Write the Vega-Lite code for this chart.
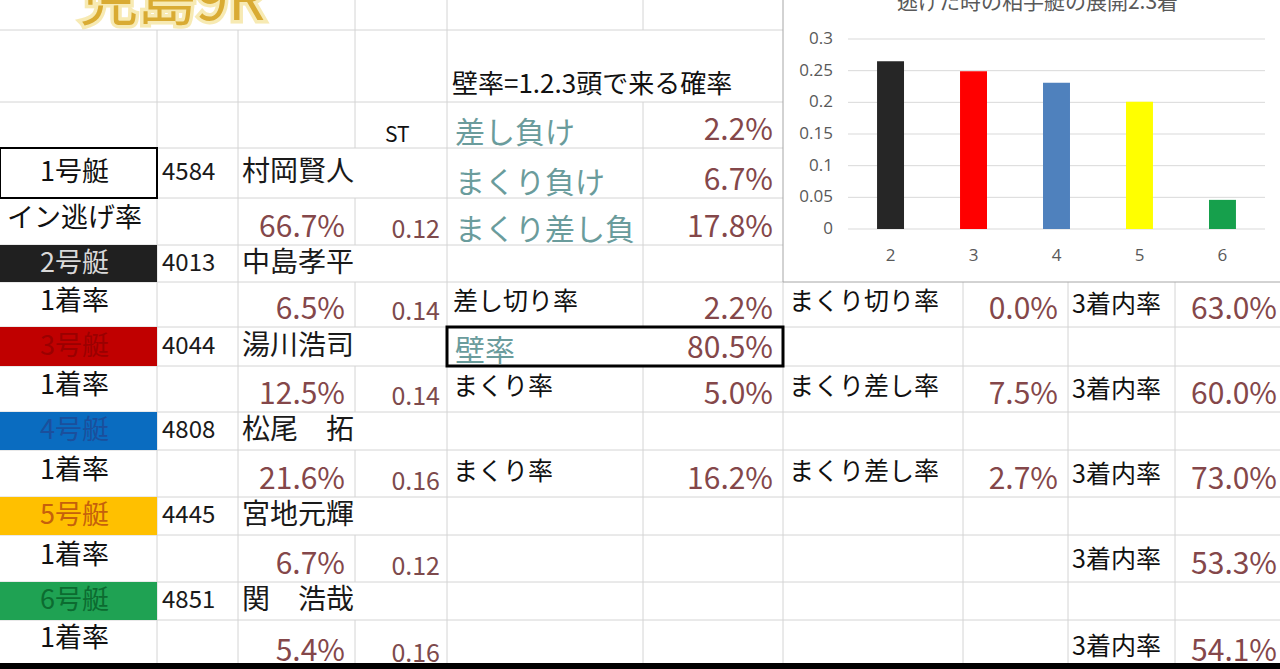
{
  "$schema": "https://vega.github.io/schema/vega-lite/v6.json",
  "width": 1280,
  "height": 669,
  "autosize": "none",
  "padding": 0,
  "background": "#ffffff",
  "config": {
    "view": {"stroke": null},
    "text": {"font": "Noto Sans CJK JP"}
  },
  "datasets": {
    "gridH": [
      {"e": 1, "c0": 0, "c1": 6, "kind": "grid"},
      {"e": 2, "c0": 0, "c1": 6, "kind": "grid"},
      {"e": 3, "c0": 0, "c1": 6, "kind": "grid"},
      {"e": 4, "c0": 0, "c1": 6, "kind": "grid"},
      {"e": 5, "c0": 0, "c1": 6, "kind": "grid"},
      {"e": 6, "c0": 0, "c1": 6, "kind": "grid"},
      {"e": 7, "c0": 0, "c1": 10, "kind": "grid"},
      {"e": 8, "c0": 0, "c1": 10, "kind": "grid"},
      {"e": 9, "c0": 0, "c1": 10, "kind": "grid"},
      {"e": 10, "c0": 0, "c1": 10, "kind": "grid"},
      {"e": 11, "c0": 0, "c1": 10, "kind": "grid"},
      {"e": 12, "c0": 0, "c1": 10, "kind": "grid"},
      {"e": 13, "c0": 0, "c1": 10, "kind": "grid"},
      {"e": 14, "c0": 0, "c1": 10, "kind": "grid"},
      {"e": 15, "c0": 0, "c1": 10, "kind": "base"},
      {"e": 6, "c0": 6, "c1": 10, "kind": "frame"}
    ],
    "gridV": [
      {"e": 1, "r0": 1, "r1": 15, "kind": "grid"},
      {"e": 2, "r0": 1, "r1": 15, "kind": "grid"},
      {"e": 3, "r0": 0, "r1": 3, "kind": "grid"},
      {"e": 3, "r0": 4, "r1": 5, "kind": "grid"},
      {"e": 3, "r0": 6, "r1": 7, "kind": "grid"},
      {"e": 3, "r0": 8, "r1": 9, "kind": "grid"},
      {"e": 3, "r0": 10, "r1": 11, "kind": "grid"},
      {"e": 3, "r0": 12, "r1": 13, "kind": "grid"},
      {"e": 3, "r0": 14, "r1": 15, "kind": "grid"},
      {"e": 4, "r0": 0, "r1": 15, "kind": "grid"},
      {"e": 5, "r0": 0, "r1": 1, "kind": "grid"},
      {"e": 5, "r0": 2, "r1": 7, "kind": "grid"},
      {"e": 5, "r0": 8, "r1": 15, "kind": "grid"},
      {"e": 6, "r0": 6, "r1": 15, "kind": "grid"},
      {"e": 7, "r0": 6, "r1": 15, "kind": "grid"},
      {"e": 8, "r0": 6, "r1": 15, "kind": "grid"},
      {"e": 9, "r0": 6, "r1": 15, "kind": "grid"},
      {"e": 6, "r0": 0, "r1": 6, "kind": "frame"}
    ],
    "blocks": [
      {"kind": "boat", "boat": "2", "r0": 5, "r1": 6, "c0": 0, "c1": 1},
      {"kind": "boat", "boat": "3", "r0": 7, "r1": 8, "c0": 0, "c1": 1},
      {"kind": "boat", "boat": "4", "r0": 9, "r1": 10, "c0": 0, "c1": 1},
      {"kind": "boat", "boat": "5", "r0": 11, "r1": 12, "c0": 0, "c1": 1},
      {"kind": "boat", "boat": "6", "r0": 13, "r1": 14, "c0": 0, "c1": 1},
      {"kind": "box", "r0": 3, "r1": 4, "c0": 0, "c1": 1},
      {"kind": "wallBox", "r0": 7, "r1": 8, "c0": 4, "c1": 6}
    ],
    "cells": [
      {"r": 0, "c": 0, "kind": "sheetTitle", "t": "児島9R"},
      {"r": 1, "c": 4, "kind": "heading", "t": "壁率=1.2.3頭で来る確率"},
      {"r": 2, "c": 3, "kind": "stHead", "t": "ST"},
      {"r": 2, "c": 4, "kind": "pattern", "t": "差し負け"},
      {"r": 2, "c": 5, "kind": "pct", "t": "2.2%"},
      {"r": 3, "c": 0, "kind": "boat", "boat": "1", "t": "1号艇"},
      {"r": 3, "c": 1, "kind": "id", "t": "4584"},
      {"r": 3, "c": 2, "kind": "name", "t": "村岡賢人"},
      {"r": 3, "c": 4, "kind": "pattern", "t": "まくり負け"},
      {"r": 3, "c": 5, "kind": "pct", "t": "6.7%"},
      {"r": 4, "c": 0, "kind": "rateLabel", "t": "イン逃げ率"},
      {"r": 4, "c": 2, "kind": "pct", "t": "66.7%"},
      {"r": 4, "c": 3, "kind": "st", "t": "0.12"},
      {"r": 4, "c": 4, "kind": "pattern", "t": "まくり差し負け"},
      {"r": 4, "c": 5, "kind": "pct", "t": "17.8%"},
      {"r": 5, "c": 0, "kind": "boat", "boat": "2", "t": "2号艇"},
      {"r": 5, "c": 1, "kind": "id", "t": "4013"},
      {"r": 5, "c": 2, "kind": "name", "t": "中島孝平"},
      {"r": 6, "c": 0, "kind": "rateLabel", "t": "1着率"},
      {"r": 6, "c": 2, "kind": "pct", "t": "6.5%"},
      {"r": 6, "c": 3, "kind": "st", "t": "0.14"},
      {"r": 6, "c": 4, "kind": "label", "t": "差し切り率"},
      {"r": 6, "c": 5, "kind": "pct", "t": "2.2%"},
      {"r": 6, "c": 6, "kind": "label", "t": "まくり切り率"},
      {"r": 6, "c": 7, "kind": "pct", "t": "0.0%"},
      {"r": 6, "c": 8, "kind": "top3Label", "t": "3着内率"},
      {"r": 6, "c": 9, "kind": "pct", "t": "63.0%"},
      {"r": 7, "c": 0, "kind": "boat", "boat": "3", "t": "3号艇"},
      {"r": 7, "c": 1, "kind": "id", "t": "4044"},
      {"r": 7, "c": 2, "kind": "name", "t": "湯川浩司"},
      {"r": 7, "c": 4, "kind": "pattern", "t": "壁率"},
      {"r": 7, "c": 5, "kind": "pct", "t": "80.5%"},
      {"r": 8, "c": 0, "kind": "rateLabel", "t": "1着率"},
      {"r": 8, "c": 2, "kind": "pct", "t": "12.5%"},
      {"r": 8, "c": 3, "kind": "st", "t": "0.14"},
      {"r": 8, "c": 4, "kind": "label", "t": "まくり率"},
      {"r": 8, "c": 5, "kind": "pct", "t": "5.0%"},
      {"r": 8, "c": 6, "kind": "label", "t": "まくり差し率"},
      {"r": 8, "c": 7, "kind": "pct", "t": "7.5%"},
      {"r": 8, "c": 8, "kind": "top3Label", "t": "3着内率"},
      {"r": 8, "c": 9, "kind": "pct", "t": "60.0%"},
      {"r": 9, "c": 0, "kind": "boat", "boat": "4", "t": "4号艇"},
      {"r": 9, "c": 1, "kind": "id", "t": "4808"},
      {"r": 9, "c": 2, "kind": "name", "t": "松尾　拓"},
      {"r": 10, "c": 0, "kind": "rateLabel", "t": "1着率"},
      {"r": 10, "c": 2, "kind": "pct", "t": "21.6%"},
      {"r": 10, "c": 3, "kind": "st", "t": "0.16"},
      {"r": 10, "c": 4, "kind": "label", "t": "まくり率"},
      {"r": 10, "c": 5, "kind": "pct", "t": "16.2%"},
      {"r": 10, "c": 6, "kind": "label", "t": "まくり差し率"},
      {"r": 10, "c": 7, "kind": "pct", "t": "2.7%"},
      {"r": 10, "c": 8, "kind": "top3Label", "t": "3着内率"},
      {"r": 10, "c": 9, "kind": "pct", "t": "73.0%"},
      {"r": 11, "c": 0, "kind": "boat", "boat": "5", "t": "5号艇"},
      {"r": 11, "c": 1, "kind": "id", "t": "4445"},
      {"r": 11, "c": 2, "kind": "name", "t": "宮地元輝"},
      {"r": 12, "c": 0, "kind": "rateLabel", "t": "1着率"},
      {"r": 12, "c": 2, "kind": "pct", "t": "6.7%"},
      {"r": 12, "c": 3, "kind": "st", "t": "0.12"},
      {"r": 12, "c": 8, "kind": "top3Label", "t": "3着内率"},
      {"r": 12, "c": 9, "kind": "pct", "t": "53.3%"},
      {"r": 13, "c": 0, "kind": "boat", "boat": "6", "t": "6号艇"},
      {"r": 13, "c": 1, "kind": "id", "t": "4851"},
      {"r": 13, "c": 2, "kind": "name", "t": "関　浩哉"},
      {"r": 14, "c": 0, "kind": "rateLabel", "t": "1着率"},
      {"r": 14, "c": 2, "kind": "pct", "t": "5.4%"},
      {"r": 14, "c": 3, "kind": "st", "t": "0.16"},
      {"r": 14, "c": 8, "kind": "top3Label", "t": "3着内率"},
      {"r": 14, "c": 9, "kind": "pct", "t": "54.1%"}
    ],
    "bars": [
      {"boat": "2", "p": 0.265},
      {"boat": "3", "p": 0.249},
      {"boat": "4", "p": 0.231},
      {"boat": "5", "p": 0.201},
      {"boat": "6", "p": 0.046}
    ],
    "yTicks": [
      {"v": 0}, {"v": 0.05}, {"v": 0.1}, {"v": 0.15}, {"v": 0.2}, {"v": 0.25}, {"v": 0.3}
    ],
    "chartTitle": [
      {"title": "逃げた時の相手艇の展開2.3着"}
    ]
  },
  "layer": [
    {
      "layer": [
        {
          "data": {"name": "gridH"},
          "transform": [{"filter": "datum.kind === 'grid'"}],
          "mark": {"type": "rule", "color": "#d4d4d4", "strokeWidth": 1},
          "encoding": {
            "y": {"field": "e", "type": "quantitative", "axis": null,
              "scale": {"domain": [0, 1, 2, 3, 4, 5, 6, 7, 8, 9, 10, 11, 12, 13, 14, 15], "range": [0, 30, 102, 148, 198, 245, 282, 327, 366, 412, 450, 497, 535, 582, 620, 669], "nice": false}},
            "x": {"field": "c0", "type": "quantitative", "axis": null,
              "scale": {"domain": [0, 1, 2, 3, 4, 5, 6, 7, 8, 9, 10], "range": [0, 157, 238, 355, 447, 643, 783, 963, 1068, 1175, 1287], "nice": false}},
            "x2": {"field": "c1"}
          }
        },
        {
          "data": {"name": "gridV"},
          "transform": [{"filter": "datum.kind === 'grid'"}],
          "mark": {"type": "rule", "color": "#d4d4d4", "strokeWidth": 1},
          "encoding": {
            "x": {"field": "e", "type": "quantitative", "axis": null},
            "y": {"field": "r0", "type": "quantitative", "axis": null},
            "y2": {"field": "r1"}
          }
        },
        {
          "data": {"name": "blocks"},
          "transform": [{"filter": "datum.kind === 'boat'"}],
          "mark": {"type": "rect"},
          "encoding": {
            "x": {"field": "c0", "type": "quantitative", "axis": null},
            "x2": {"field": "c1"},
            "y": {"field": "r0", "type": "quantitative", "axis": null},
            "y2": {"field": "r1"},
            "color": {"field": "boat", "type": "nominal", "legend": null,
              "scale": {"domain": ["2", "3", "4", "5", "6"], "range": ["#202020", "#c00000", "#0a6cc0", "#ffc000", "#1fa253"]}}
          }
        },
        {
          "data": {"name": "blocks"},
          "transform": [{"filter": "datum.kind === 'box'"}],
          "mark": {"type": "rect", "filled": false, "stroke": "#000000", "strokeWidth": 2},
          "encoding": {
            "x": {"field": "c0", "type": "quantitative", "axis": null},
            "x2": {"field": "c1"},
            "y": {"field": "r0", "type": "quantitative", "axis": null},
            "y2": {"field": "r1"}
          }
        },
        {
          "data": {"name": "blocks"},
          "transform": [{"filter": "datum.kind === 'wallBox'"}],
          "mark": {"type": "rect", "filled": false, "stroke": "#000000", "strokeWidth": 3},
          "encoding": {
            "x": {"field": "c0", "type": "quantitative", "axis": null},
            "x2": {"field": "c1"},
            "y": {"field": "r0", "type": "quantitative", "axis": null},
            "y2": {"field": "r1"}
          }
        },
        {
          "data": {"name": "gridH"},
          "transform": [{"filter": "datum.kind === 'frame'"}],
          "mark": {"type": "rule", "color": "#a6a6a6", "strokeWidth": 1},
          "encoding": {
            "y": {"field": "e", "type": "quantitative", "axis": null},
            "x": {"field": "c0", "type": "quantitative", "axis": null},
            "x2": {"field": "c1"}
          }
        },
        {
          "data": {"name": "gridV"},
          "transform": [{"filter": "datum.kind === 'frame'"}],
          "mark": {"type": "rule", "color": "#a6a6a6", "strokeWidth": 1},
          "encoding": {
            "x": {"field": "e", "type": "quantitative", "axis": null},
            "y": {"field": "r0", "type": "quantitative", "axis": null},
            "y2": {"field": "r1"}
          }
        },
        {
          "data": {"name": "gridH"},
          "transform": [{"filter": "datum.kind === 'base'"}],
          "mark": {"type": "rule", "color": "#000000", "strokeWidth": 12},
          "encoding": {
            "y": {"field": "e", "type": "quantitative", "axis": null},
            "x": {"field": "c0", "type": "quantitative", "axis": null},
            "x2": {"field": "c1"}
          }
        }
      ]
    },
    {
      "data": {"name": "cells"},
      "encoding": {
        "x": {"field": "c", "type": "quantitative", "axis": null,
          "scale": {"domain": [0, 1, 2, 3, 4, 5, 6, 7, 8, 9], "range": [0, 157, 238, 355, 447, 643, 783, 963, 1068, 1175], "nice": false}},
        "y": {"field": "r", "type": "quantitative", "axis": null,
          "scale": {"domain": [0, 1, 2, 3, 4, 5, 6, 7, 8, 9, 10, 11, 12, 13, 14], "range": [15, 66, 125, 173, 221.5, 263.5, 304.5, 346.5, 389, 431, 473.5, 516, 558.5, 601, 641.5], "nice": false}},
        "text": {"field": "t"}
      },
      "layer": [
        {
          "transform": [{"filter": "datum.kind === 'id'"}],
          "mark": {"type": "text", "align": "left", "baseline": "middle", "dx": 5, "fontSize": 24, "fill": "#1a1a1a"}
        },
        {
          "transform": [{"filter": "datum.kind === 'name'"}],
          "mark": {"type": "text", "align": "left", "baseline": "middle", "dx": 4, "fontSize": 28, "fill": "#1a1a1a"}
        }
      ]
    },
    {
      "data": {"name": "cells"},
      "encoding": {
        "x": {"field": "c", "type": "quantitative", "axis": null,
          "scale": {"domain": [0, 1, 2, 3, 4, 5, 6, 7, 8, 9], "range": [78.5, 197.5, 296.5, 401, 545, 713, 873, 1015.5, 1121.5, 1231], "nice": false}},
        "y": {"field": "r", "type": "quantitative", "axis": null,
          "scale": {"domain": [0, 1, 2, 3, 4, 5, 6, 7, 8, 9, 10, 11, 12, 13, 14], "range": [15, 66, 125, 173, 221.5, 263.5, 304.5, 346.5, 389, 431, 473.5, 516, 558.5, 601, 641.5], "nice": false}},
        "text": {"field": "t"}
      },
      "layer": [
        {
          "transform": [{"filter": "datum.kind === 'boat'"}],
          "mark": {"type": "text", "align": "center", "baseline": "middle", "dx": -4, "fontSize": 27},
          "encoding": {
            "color": {"field": "boat", "type": "nominal", "legend": null,
              "scale": {"domain": ["1", "2", "3", "4", "5", "6"], "range": ["#111111", "#d9d9d9", "#9a0000", "#1b4f9c", "#c5600c", "#0c6b30"]}}
          }
        },
        {
          "transform": [{"filter": "datum.kind === 'rateLabel'"}],
          "mark": {"type": "text", "align": "center", "baseline": "middle", "dx": -4, "dy": -3, "fontSize": 27, "fill": "#111111"}
        }
      ]
    },
    {
      "data": {"name": "cells"},
      "encoding": {
        "x": {"field": "c", "type": "quantitative", "axis": null,
          "scale": {"domain": [0, 1, 2, 3, 4, 5, 6, 7, 8, 9], "range": [0, 157, 238, 355, 447, 643, 783, 963, 1068, 1175], "nice": false}},
        "y": {"field": "r", "type": "quantitative", "axis": null,
          "scale": {"domain": [0, 1, 2, 3, 4, 5, 6, 7, 8, 9, 10, 11, 12, 13, 14], "range": [30, 102, 148, 198, 245, 282, 327, 366, 412, 450, 497, 535, 582, 620, 669], "nice": false}},
        "text": {"field": "t"}
      },
      "layer": [
        {
          "transform": [{"filter": "datum.kind === 'sheetTitle'"}],
          "mark": {"type": "text", "align": "left", "baseline": "alphabetic", "dx": 80, "dy": -10, "fontSize": 58, "fill": "#f5e39a", "stroke": "#f5e39a", "strokeWidth": 7, "opacity": 0.75}
        },
        {
          "transform": [{"filter": "datum.kind === 'sheetTitle'"}],
          "mark": {"type": "text", "align": "left", "baseline": "alphabetic", "dx": 80, "dy": -10, "fontSize": 58, "fill": "#d9ab33"}
        },
        {
          "transform": [{"filter": "datum.kind === 'heading'"}],
          "mark": {"type": "text", "align": "left", "baseline": "alphabetic", "dx": 5, "dy": -9, "fontSize": 26, "fill": "#111111"}
        },
        {
          "transform": [{"filter": "datum.kind === 'stHead'"}],
          "mark": {"type": "text", "align": "left", "baseline": "alphabetic", "dx": 30, "dy": -6, "fontSize": 21, "fill": "#111111"}
        },
        {
          "transform": [{"filter": "datum.kind === 'pattern'"}],
          "mark": {"type": "text", "align": "left", "baseline": "alphabetic", "dx": 8, "dy": -5, "fontSize": 30, "fill": "#6a9c9c", "limit": 190, "ellipsis": " "}
        },
        {
          "transform": [{"filter": "datum.kind === 'label'"}],
          "mark": {"type": "text", "align": "left", "baseline": "alphabetic", "dx": 6, "dy": -17, "fontSize": 25, "fill": "#111111"}
        },
        {
          "transform": [{"filter": "datum.kind === 'top3Label'"}],
          "mark": {"type": "text", "align": "left", "baseline": "alphabetic", "dx": 4, "dy": -14, "fontSize": 25, "fill": "#111111"}
        }
      ]
    },
    {
      "data": {"name": "cells"},
      "encoding": {
        "x": {"field": "c", "type": "quantitative", "axis": null,
          "scale": {"domain": [0, 1, 2, 3, 4, 5, 6, 7, 8, 9], "range": [157, 238, 355, 447, 643, 783, 963, 1068, 1175, 1287], "nice": false}},
        "y": {"field": "r", "type": "quantitative", "axis": null,
          "scale": {"domain": [0, 1, 2, 3, 4, 5, 6, 7, 8, 9, 10, 11, 12, 13, 14], "range": [30, 102, 148, 198, 245, 282, 327, 366, 412, 450, 497, 535, 582, 620, 669], "nice": false}},
        "text": {"field": "t"}
      },
      "layer": [
        {
          "transform": [{"filter": "datum.kind === 'pct'"}],
          "mark": {"type": "text", "align": "right", "baseline": "alphabetic", "dx": -10, "dy": -8, "fontSize": 30, "fill": "#84474a"}
        },
        {
          "transform": [{"filter": "datum.kind === 'st'"}],
          "mark": {"type": "text", "align": "right", "baseline": "alphabetic", "dx": -7, "dy": -7, "fontSize": 25, "fill": "#7d4a4c"}
        }
      ]
    },
    {
      "data": {"name": "yTicks"},
      "encoding": {
        "y": {"field": "v", "type": "quantitative", "axis": null,
          "scale": {"domain": [0, 0.3], "range": [229, 39], "nice": false, "zero": false}},
        "x": {"datum": 0, "type": "quantitative", "axis": null,
          "scale": {"domain": [0, 1], "range": [848, 1265], "nice": false, "zero": false}}
      },
      "layer": [
        {
          "mark": {"type": "rule", "color": "#d9d9d9", "strokeWidth": 1},
          "encoding": {"x2": {"datum": 1}}
        },
        {
          "mark": {"type": "text", "align": "right", "baseline": "middle", "dx": -15, "font": "Open Sans", "fontSize": 17, "fill": "#595959"},
          "encoding": {"text": {"field": "v", "type": "quantitative", "format": ".2~f"}}
        }
      ]
    },
    {
      "layer": [
        {
          "data": {"name": "bars"},
          "mark": {"type": "bar"},
          "encoding": {
            "x": {"field": "boat", "type": "nominal", "axis": null,
              "scale": {"type": "band", "domain": ["2", "3", "4", "5", "6"], "range": [848, 1265], "paddingInner": 0.675, "paddingOuter": 0.35}},
            "y": {"field": "p", "type": "quantitative", "axis": null,
              "scale": {"domain": [0, 0.3], "range": [229, 39], "nice": false, "zero": false}},
            "color": {"field": "boat", "type": "nominal", "legend": null,
              "scale": {"domain": ["2", "3", "4", "5", "6"], "range": ["#262626", "#ff0000", "#4f81bd", "#ffff00", "#16a04c"]}}
          }
        },
        {
          "data": {"name": "bars"},
          "mark": {"type": "text", "align": "center", "baseline": "middle", "dy": 27, "font": "Open Sans", "fontSize": 17, "fill": "#595959"},
          "encoding": {
            "x": {"field": "boat", "type": "nominal", "axis": null},
            "y": {"datum": 0, "type": "quantitative", "axis": null},
            "text": {"field": "boat"}
          }
        },
        {
          "data": {"name": "chartTitle"},
          "mark": {"type": "text", "align": "center", "baseline": "alphabetic", "dx": -19, "dy": -30, "fontSize": 21, "fill": "#595959"},
          "encoding": {
            "x": {"datum": "4", "type": "nominal", "bandPosition": 0.5, "axis": null},
            "y": {"datum": 0.3, "type": "quantitative", "axis": null},
            "text": {"field": "title"}
          }
        }
      ]
    }
  ],
  "resolve": {
    "scale": {"x": "independent", "y": "independent", "color": "independent"},
    "axis": {"x": "independent", "y": "independent"}
  }
}
